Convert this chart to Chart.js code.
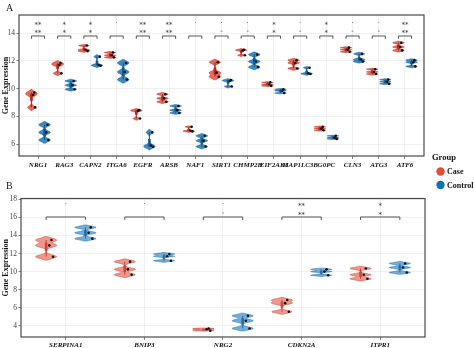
<!DOCTYPE html>
<html>
<head>
<meta charset="utf-8">
<script src="https://cdn.jsdelivr.net/npm/chart.js@4.4.0/dist/chart.umd.min.js"></script>
<style>
  html, body { margin: 0; padding: 0; background: #fff; }
  #wrap { position: relative; width: 474px; height: 348px; overflow: hidden; }
  canvas { position: absolute; left: 0; top: 0; }
</style>
</head>
<body>
<div id="wrap">
  <canvas id="panelA" width="474" height="348"></canvas>
  <canvas id="panelB" width="474" height="348"></canvas>
</div>
<script>
// ---- Panel A: expression of 15 genes, three samples per group ----
const genesA = ['NRG1', 'RAG3', 'CAPN2', 'ITGA6', 'EGFR', 'ARSB', 'NAF1', 'SIRT1',
                'CHMP2B', 'EIF2AK3', 'MAP1LC3B', 'G0PC', 'CLN3', 'ATG3', 'ATF6'];
const caseA = [
  [9.72, 9.55, 8.65], [11.85, 11.7, 11.1], [13.1, 12.8, 12.7], [12.6, 12.4, 12.25],
  [8.45, 8.4, 7.85], [9.6, 9.3, 9.05], [7.25, 6.97, 6.92], [11.9, 11.15, 10.85],
  [12.8, 12.75, 12.4], [10.45, 10.3, 10.2], [12.05, 11.85, 11.45], [7.25, 7.12, 7.0],
  [12.95, 12.8, 12.65], [11.4, 11.2, 11.05], [13.3, 13.0, 12.75]
];
const controlA = [
  [7.4, 6.85, 6.3], [10.55, 10.25, 9.95], [12.3, 11.7, 11.65], [11.85, 11.2, 10.65],
  [6.85, 5.9, 5.8], [8.75, 8.45, 8.25], [6.6, 6.25, 5.83], [10.62, 10.55, 10.15],
  [12.45, 11.95, 11.55], [9.95, 9.85, 9.68], [11.5, 11.1, 11.05], [6.6, 6.47, 6.38],
  [12.5, 12.1, 11.95], [10.65, 10.5, 10.35], [12.05, 11.9, 11.6]
];
const sigTopA = ['**', '*', '*', '.', '**', '**', '.', '.', '.', '*', '.', '*', '.', '.', '**'];
const sigBotA = ['**', '*', '*', '', '**', '**', '', '-', '-', '*', '-', '*', '-', '-', '**'];
const yTicksA = [6, 8, 10, 12, 14];

// ---- Panel B: five further genes ----
const genesB = ['SERPINA1', 'BNIP3', 'NRG2', 'CDKN2A', 'ITPR1'];
const caseB = [
  [13.5, 12.9, 11.65], [11.1, 10.25, 9.65], [3.7, 3.6, 3.45], [6.85, 6.5, 5.55], [10.35, 9.65, 9.2]
];
const controlB = [
  [14.9, 14.3, 13.65], [11.95, 11.7, 11.2], [5.1, 4.55, 3.7], [10.25, 10.0, 9.6], [10.9, 10.45, 9.9]
];
const sigTopB = ['.', '.', '.', '**', '*'];
const sigBotB = ['', '', '-', '**', '*'];
const yTicksB = [4, 6, 8, 10, 12, 14, 16, 18];

const groupNames = ['Case', 'Control'];

// ---- styling ----
const SERIF = '"Liberation Serif", "Times New Roman", serif';
const CASE_COLOR = '#E64B35';
const CONTROL_COLOR = '#0F72B8';
const DODGE = 0.25;
const JITTER = [0.5, 0.3, 0.65];   // horizontal spread of sample dots, as share of violin half-width

function rgba(hex, a) {
  const n = parseInt(hex.slice(1), 16);
  return `rgba(${n >> 16},${(n >> 8) & 255},${n & 255},${a})`;
}

function quantile(sorted, p) {
  const h = (sorted.length - 1) * p, lo = Math.floor(h);
  const hi = Math.min(lo + 1, sorted.length - 1);
  return sorted[lo] + (h - lo) * (sorted[hi] - sorted[lo]);
}

// Silverman's rule of thumb (R's bw.nrd0)
function bandwidth(v) {
  const n = v.length, m = v.reduce((a, b) => a + b, 0) / n;
  const sd = Math.sqrt(v.reduce((a, b) => a + (b - m) ** 2, 0) / (n - 1));
  const s = [...v].sort((a, b) => a - b);
  const iqr = quantile(s, 0.75) - quantile(s, 0.25);
  let lo = Math.min(sd, iqr / 1.34);
  if (!(lo > 0)) lo = sd || 0.1;
  return 0.9 * lo * Math.pow(n, -0.2);
}

function drawViolin(ctx, yScale, cx, hw, vals, adjust, cut, fill, line) {
  const bw = bandwidth(vals) * adjust;
  const lo = Math.min(...vals) - cut * bw, hi = Math.max(...vals) + cut * bw;
  const N = 100, pts = [];
  let dmax = 0;
  for (let k = 0; k <= N; k++) {
    const yv = lo + (hi - lo) * k / N;
    let d = 0;
    vals.forEach(v => { d += Math.exp(-0.5 * ((yv - v) / bw) ** 2); });
    pts.push([yv, d]);
    if (d > dmax) dmax = d;
  }
  const first = pts[0];
  ctx.beginPath();
  ctx.moveTo(cx, yScale.getPixelForValue(first[0]));
  pts.forEach(([yv, d]) => ctx.lineTo(cx + d / dmax * hw, yScale.getPixelForValue(yv)));
  for (let k = pts.length - 1; k >= 0; k--) {
    const [yv, d] = pts[k];
    ctx.lineTo(cx - d / dmax * hw, yScale.getPixelForValue(yv));
  }
  ctx.closePath();
  ctx.fillStyle = fill;
  ctx.fill();
  ctx.strokeStyle = line;
  ctx.lineWidth = 0.5;
  ctx.stroke();

  // slim box plot inside
  const s = [...vals].sort((a, b) => a - b);
  const q1 = yScale.getPixelForValue(quantile(s, 0.25));
  const q3 = yScale.getPixelForValue(quantile(s, 0.75));
  ctx.strokeStyle = line;
  ctx.lineWidth = 1;
  ctx.beginPath();
  ctx.moveTo(cx, yScale.getPixelForValue(s[0]));
  ctx.lineTo(cx, yScale.getPixelForValue(s[s.length - 1]));
  ctx.stroke();
  ctx.fillStyle = line;
  ctx.fillRect(cx - 1.3, Math.min(q1, q3), 2.6, Math.max(Math.abs(q1 - q3), 1));
}

function drawSig(ctx, cx, y, txt, size) {
  if (!txt) return;
  ctx.font = `${size}px "DejaVu Sans", sans-serif`;
  ctx.textAlign = 'center';
  ctx.textBaseline = 'alphabetic';
  let off = 0;
  if (txt.includes('*')) off = size * 0.62;
  else if (txt === '.') off = size * 0.1;
  else if (txt === '-') off = size * 0.3;
  ctx.fillText(txt, cx, y + off);
}

const violinPlugin = {
  id: 'violins',
  beforeDatasetsDraw(chart, args, o) {
    const { ctx, chartArea: a, scales: { x, y } } = chart;
    ctx.save();
    ctx.beginPath();
    ctx.rect(a.left, a.top, a.right - a.left, a.bottom - a.top);
    ctx.clip();
    o.groups.forEach(g => {
      g.values.forEach((vals, i) => {
        const cx = x.getPixelForValue(i + 1 + g.dodge);
        const hw = Math.abs(x.getPixelForValue(i + 1 + g.dodge + o.halfWidth) - cx);
        drawViolin(ctx, y, cx, hw, vals, o.adjust, o.cut, rgba(g.color, o.alpha), g.line);
      });
    });
    ctx.restore();
  },
  afterDatasetsDraw(chart, args, o) {
    const { ctx, chartArea: a, scales: { x, y } } = chart;
    ctx.save();
    // comparison brackets and significance marks
    ctx.strokeStyle = '#555';
    ctx.fillStyle = '#333';
    ctx.lineWidth = 1;
    o.sigTop.forEach((t, i) => {
      const x0 = x.getPixelForValue(i + 1 - DODGE), x1 = x.getPixelForValue(i + 1 + DODGE);
      const yb = y.getPixelForValue(o.bracketAt), yd = y.getPixelForValue(o.bracketAt - o.bracketDrop);
      ctx.beginPath();
      ctx.moveTo(x0, yd); ctx.lineTo(x0, yb); ctx.lineTo(x1, yb); ctx.lineTo(x1, yd);
      ctx.stroke();
      const cx = x.getPixelForValue(i + 1);
      drawSig(ctx, cx, y.getPixelForValue(o.rowTop), t, o.sigSize);
      drawSig(ctx, cx, y.getPixelForValue(o.rowBottom), o.sigBottom[i], o.sigSize);
    });
    // panel frame
    ctx.strokeStyle = '#4a4a4a';
    ctx.lineWidth = 1.2;
    ctx.strokeRect(a.left, a.top, a.right - a.left, a.bottom - a.top);
    // panel tag
    ctx.fillStyle = '#222';
    ctx.font = `10px ${SERIF}`;
    ctx.textAlign = 'left';
    ctx.textBaseline = 'middle';
    ctx.fillText(o.tag, o.tagX, o.tagY);
    ctx.restore();
  },
  afterDraw(chart, args, o) {
    if (!o.legend) return;
    const { ctx } = chart;
    const L = o.legend;
    ctx.save();
    ctx.fillStyle = '#111';
    ctx.textAlign = 'left';
    ctx.textBaseline = 'middle';
    ctx.font = `bold 8.5px ${SERIF}`;
    ctx.fillText('Group', L.x - 5, L.y);
    groupNames.forEach((name, k) => {
      const cy = L.y + 13.5 * (k + 1);
      ctx.beginPath();
      ctx.arc(L.x + 3.5, cy, 4.2, 0, Math.PI * 2);
      ctx.fillStyle = k === 0 ? CASE_COLOR : CONTROL_COLOR;
      ctx.fill();
      ctx.fillStyle = '#111';
      ctx.font = `bold 8px ${SERIF}`;
      ctx.fillText(name, L.x + 10, cy + 0.5);
    });
    ctx.restore();
  }
};

function dotData(groups, dodge, hwUnits) {
  return groups.flatMap((vals, i) => vals.map((v, k) => ({
    x: i + 1 + dodge + JITTER[k % JITTER.length] * hwUnits, y: v
  })));
}

function makePanel(id, cfg) {
  const { genes, cases, controls, yTicks, yMin, yMax, xPad, halfWidth } = cfg;
  return new Chart(document.getElementById(id), {
    type: 'scatter',
    data: {
      datasets: [
        { label: groupNames[0], data: dotData(cases, -DODGE, halfWidth),
          pointRadius: 1.3, pointBackgroundColor: '#111', pointBorderWidth: 0 },
        { label: groupNames[1], data: dotData(controls, DODGE, halfWidth),
          pointRadius: 1.3, pointBackgroundColor: '#111', pointBorderWidth: 0 }
      ]
    },
    options: {
      responsive: false,
      animation: false,
      events: [],
      layout: { padding: cfg.padding },
      plugins: {
        legend: { display: false },
        tooltip: { enabled: false },
        violins: {
          groups: [
            { values: cases, dodge: -DODGE, color: CASE_COLOR, line: cfg.caseLine },
            { values: controls, dodge: DODGE, color: CONTROL_COLOR, line: cfg.controlLine }
          ],
          halfWidth, alpha: cfg.alpha, adjust: 0.4, cut: 1.9,
          sigTop: cfg.sigTop, sigBottom: cfg.sigBottom,
          bracketAt: cfg.bracketAt, bracketDrop: cfg.bracketDrop,
          rowTop: cfg.rowTop, rowBottom: cfg.rowBottom, sigSize: 7,
          tag: cfg.tag, tagX: 6, tagY: cfg.tagY, legend: cfg.legend
        }
      },
      scales: {
        x: {
          type: 'linear',
          min: 1 - xPad, max: genes.length + xPad,
          afterBuildTicks: s => { s.ticks = genes.map((g, i) => ({ value: i + 1 })); },
          afterFit: s => { s.height = cfg.xAxisHeight; },
          ticks: {
            autoSkip: false, maxRotation: 0, minRotation: 0, padding: cfg.xLabelPad,
            color: '#111',
            font: { family: SERIF, size: 7, style: 'italic', weight: 'bold' },
            callback: v => genes[Math.round(v) - 1] ?? ''
          },
          grid: { color: '#e6e6e6', lineWidth: 0.6, tickColor: '#333', tickLength: 3 },
          border: { display: false }
        },
        y: {
          type: 'linear',
          min: yMin, max: yMax,
          afterBuildTicks: s => { s.ticks = yTicks.map(v => ({ value: v })); },
          afterFit: s => { s.width = cfg.yAxisWidth; },
          ticks: { padding: 1.5, color: '#444', font: { family: SERIF, size: 7.5 } },
          grid: { color: '#e6e6e6', lineWidth: 0.6, tickColor: '#333', tickLength: 2.5 },
          border: { display: false },
          title: {
            display: true, text: 'Gene Expression', color: '#111',
            font: { family: SERIF, size: 8, weight: 'bold' },
            padding: { top: 1, bottom: 0 }
          }
        }
      }
    },
    plugins: [violinPlugin]
  });
}

makePanel('panelA', {
  genes: genesA, cases: caseA, controls: controlA, yTicks: yTicksA,
  yMin: 5.15, yMax: 15.3, xPad: 0.725, halfWidth: 0.22,
  padding: { top: 15, right: 50, bottom: 172, left: 0 },
  xAxisHeight: 20, yAxisWidth: 19, xLabelPad: 2,
  alpha: 0.82, caseLine: '#B3281B', controlLine: '#0B5A94',
  sigTop: sigTopA, sigBottom: sigBotA,
  bracketAt: 13.79, bracketDrop: 0.2, rowTop: 14.75, rowBottom: 14.17,
  tag: 'A', tagY: 8
});

makePanel('panelB', {
  genes: genesB, cases: caseB, controls: controlB, yTicks: yTicksB,
  yMin: 2.75, yMax: 18.1, xPad: 0.57, halfWidth: 0.135,
  padding: { top: 198.5, right: 49, bottom: 0, left: 0 },
  xAxisHeight: 11, yAxisWidth: 21, xLabelPad: 0.5,
  alpha: 0.58, caseLine: '#C8473A', controlLine: '#1E6FAE',
  sigTop: sigTopB, sigBottom: sigBotB,
  bracketAt: 16.05, bracketDrop: 0.33, rowTop: 17.55, rowBottom: 16.55,
  tag: 'B', tagY: 186,
  legend: { x: 437, y: 158 }
});
</script>
</body>
</html>
